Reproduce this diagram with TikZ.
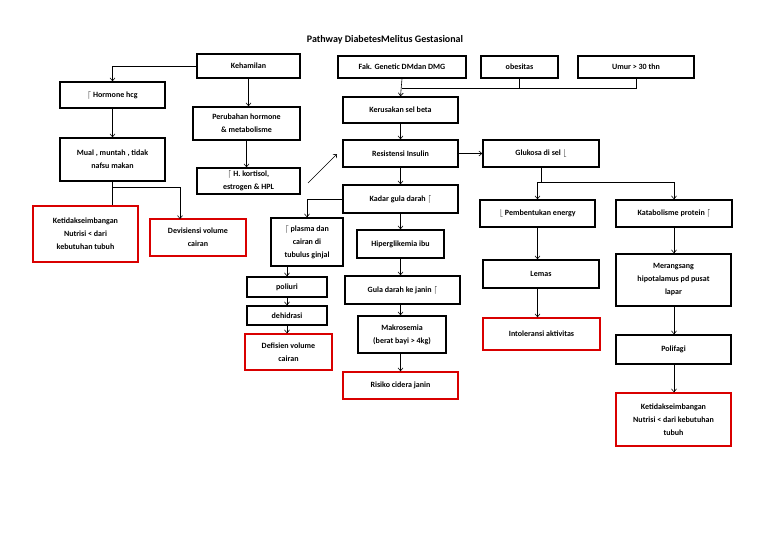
\documentclass[tikz,border=0pt]{standalone}
\usepackage{fontspec}
\setmainfont{Carlito}
\usetikzlibrary{arrows.meta}
\begin{document}
\begin{tikzpicture}[x=1pt,y=-1pt,
 bx/.style={draw=black,line width=1.3pt,align=center,font=\bfseries\fontsize{8}{13}\selectfont,inner sep=0pt},
 rb/.style={bx,draw=red!85!black},
 ar/.style={-{Straight Barb[length=3pt,width=5pt]},line width=0.6pt},
 ln/.style={line width=0.6pt}]
\useasboundingbox (0,0) rectangle (768,543);
\newcommand{\bnode}[7]{\node[#1,minimum width=#4-#3,minimum height=#6-#5] (#2) at ({(#3+#4)/2},{(#5+#6)/2}) {#7};}
\node[font=\bfseries\fontsize{10}{12}\selectfont] (title) at (385,40) {Pathway DiabetesMelitus Gestasional};
\bnode{bx}{keh}{197}{300}{54}{78}{Kehamilan}
\bnode{bx}{hcg}{60}{165}{82}{108}{$\lceil$ Hormone hcg}
\bnode{bx}{per}{193}{300}{107}{140}{Perubahan hormone\\\& metabolisme}
\bnode{bx}{mual}{60}{165}{138}{181}{Mual , muntah , tidak\\nafsu makan}
\bnode{bx}{kor}{197}{300}{168}{194}{$\lceil$ H. kortisol,\\estrogen \& HPL}
\bnode{rb}{ket1}{33}{138}{206}{262}{Ketidakseimbangan\\Nutrisi < dari\\kebutuhan tubuh}
\bnode{rb}{dev}{150}{246}{219}{256}{Devisiensi volume\\cairan}
\bnode{bx}{fak}{338}{466}{56}{78}{Fak. Genetic DMdan DMG}
\bnode{bx}{obe}{481}{558}{56}{78}{obesitas}
\bnode{bx}{umur}{578}{694}{56}{78}{Umur > 30 thn}
\bnode{bx}{ker}{343}{458}{97}{123}{Kerusakan sel beta}
\bnode{bx}{res}{343}{458}{140}{167}{Resistensi Insulin}
\bnode{bx}{glu}{483}{599}{140}{167}{Glukosa di sel $\lfloor$}
\bnode{bx}{kad}{343}{458}{185}{213}{Kadar gula darah $\lceil$}
\bnode{bx}{pla}{271}{343}{218}{266}{$\lceil$ plasma dan\\cairan di\\tubulus ginjal}
\bnode{bx}{hip}{357}{444}{230}{258}{Hiperglikemia ibu}
\bnode{bx}{pol}{247}{327}{277}{297}{poliuri}
\bnode{bx}{deh}{247}{327}{306}{325}{dehidrasi}
\bnode{rb}{def}{245}{332}{334}{370}{Defisien volume\\cairan}
\bnode{bx}{gul}{345}{460}{276}{304}{Gula darah ke janin $\lceil$}
\bnode{bx}{mak}{358}{446}{316}{353}{Makrosemia\\(berat bayi > 4kg)}
\bnode{rb}{ris}{343}{458}{372}{399}{Risiko cidera janin}
\bnode{bx}{pem}{480}{595}{200}{227}{$\lfloor$ Pembentukan energy}
\bnode{bx}{kat}{616}{732}{200}{227}{Katabolisme protein $\lceil$}
\bnode{bx}{lem}{483}{599}{260}{288}{Lemas}
\bnode{rb}{int}{483}{600}{318}{350}{Intoleransi aktivitas}
\bnode{bx}{mer}{616}{731}{254}{306}{Merangsang\\hipotalamus pd pusat\\lapar}
\bnode{bx}{polf}{616}{731}{335}{364}{Polifagi}
\bnode{rb}{ket2}{616}{731}{393}{446}{Ketidakseimbangan\\Nutrisi < dari kebutuhan\\tubuh}
\draw[ar] (keh.west) -| (hcg.north);
\draw[ar] (keh.south) -- (keh.south |- per.north);
\draw[ar] (hcg.south) -- (mual.north);
\draw[ar] (per.south) -- (per.south |- kor.north);
\draw[ln] (mual.south) -- (mual.south |- ket1.north);
\coordinate (mj) at (112.5,187);
\draw[ar] (mj) -| (180,219);
\coordinate (ks) at (308,183);
\draw[ar] (ks) -- (337,154);
\draw[ar] (fak.south) -- (ker.north);
\draw[ln] (obe.south) -- (519.5,88);
\draw[ln] (umur.south) -- (636,88) -- (402,88);
\draw[ar] (ker.south) -- (res.north);
\draw[ar] (res.south) -- (kad.north);
\draw[ar] (res.east) -- (glu.west);
\draw[ln] (glu.south) -- (541,182);
\draw[ar] (537.5,182) -- (pem.north);
\draw[ar] (537.5,182) -| (kat.north);
\draw[ar] (kad.west) -| (pla.north);
\draw[ar] (kad.south) -- (kad.south |- hip.north);
\draw[ar] (kad.south |- hip.south) -- (kad.south |- gul.north);
\draw[ar] (kad.south |- gul.south) -- (kad.south |- mak.north);
\draw[ar] (kad.south |- mak.south) -- (ris.north);
\draw[ar] (pol.north |- pla.south) -- (pol.north);
\draw[ar] (pol.south) -- (deh.north);
\draw[ar] (deh.south) -- (deh.south |- def.north);
\draw[ar] (pem.south) -- (pem.south |- lem.north);
\draw[ar] (pem.south |- lem.south) -- (pem.south |- int.north);
\draw[ar] (kat.south) -- (kat.south |- mer.north);
\draw[ar] (kat.south |- mer.south) -- (kat.south |- polf.north);
\draw[ar] (kat.south |- polf.south) -- (kat.south |- ket2.north);
\end{tikzpicture}
\end{document}
